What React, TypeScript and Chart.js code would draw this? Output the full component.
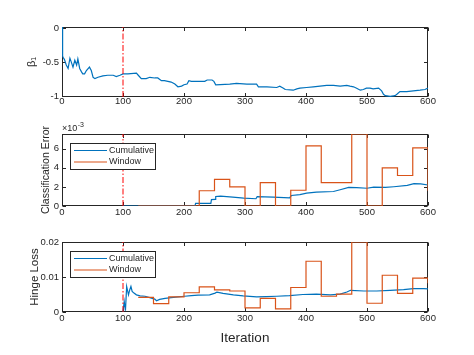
import React, { useEffect, useRef } from "react";
import { Chart, registerables } from "chart.js";

Chart.register(...registerables);

// ---------------- data ----------------
const X_RANGE = [0, 600];
const X_TICKS = [0, 100, 200, 300, 400, 500, 600];
const SPLIT_ITER = 100;

// panel 1: beta_1
const BETA_ITER = [0, 1, 2, 4, 7, 10, 13, 15, 18, 21, 24, 26, 29, 32, 34, 37, 40, 45, 48, 51, 54, 59, 67, 75, 84, 89, 95, 100, 108, 122, 125, 130, 138, 144, 152, 157, 163, 168, 179, 185, 190, 196, 200, 205, 208, 212, 226, 234, 238, 246, 249, 252, 275, 286, 303, 319, 322, 336, 352, 357, 363, 366, 379, 385, 390, 401, 412, 423, 434, 445, 456, 467, 472, 478, 483, 489, 494, 499, 505, 510, 519, 524, 527, 530, 538, 546, 549, 554, 565, 576, 587, 595, 600];
const BETA_VAL = [0.02, -0.41, -0.43, -0.46, -0.54, -0.59, -0.44, -0.49, -0.57, -0.47, -0.54, -0.45, -0.59, -0.64, -0.67, -0.67, -0.62, -0.57, -0.62, -0.72, -0.74, -0.72, -0.7, -0.69, -0.69, -0.71, -0.69, -0.67, -0.67, -0.66, -0.69, -0.74, -0.74, -0.72, -0.73, -0.73, -0.77, -0.77, -0.79, -0.82, -0.86, -0.85, -0.83, -0.82, -0.77, -0.78, -0.78, -0.78, -0.76, -0.76, -0.78, -0.83, -0.82, -0.81, -0.82, -0.82, -0.86, -0.86, -0.87, -0.85, -0.88, -0.9, -0.91, -0.89, -0.88, -0.87, -0.86, -0.85, -0.84, -0.84, -0.85, -0.84, -0.85, -0.86, -0.88, -0.91, -0.9, -0.88, -0.88, -0.89, -0.88, -0.92, -0.97, -0.99, -1.0, -0.99, -0.97, -0.93, -0.93, -0.92, -0.91, -0.9, -0.88];
const BETA_TICKS = [-1, -0.5, 0];
const BETA_RANGE = [-1.01, 0.02];

// panel 2: classification error
const CE_CUM_ITER = [100, 218, 219, 244, 245, 251, 252, 260, 280, 298, 318, 320, 346, 373, 376, 390, 401, 417, 445, 456, 470, 483, 500, 511, 530, 544, 566, 577, 588, 600];
const CE_CUM_VAL = [0, 0, 0.00027, 0.00027, 0.00067, 0.0007, 0.001, 0.00103, 0.00093, 0.00082, 0.00076, 0.00099, 0.00093, 0.00085, 0.0011, 0.0012, 0.00135, 0.00145, 0.00152, 0.0017, 0.00195, 0.00193, 0.00186, 0.00198, 0.00195, 0.00202, 0.00216, 0.00234, 0.00232, 0.0022];
const CE_WIN_ITER = [125, 150, 175, 200, 225, 250, 275, 300, 325, 350, 375, 400, 425, 450, 475, 500, 525, 550, 575, 600];
const CE_WIN_VAL = [0, 0, 0, 0, 0.0016, 0.0028, 0.002, 0, 0.00245, 0, 0.00165, 0.0063, 0.00245, 0.00245, 0.00755, 0, 0.004, 0.0032, 0.0061, 0.0016];
const CE_TICKS = [0, 0.002, 0.004, 0.006];
const CE_RANGE = [0, 0.00755];

// panel 3: hinge loss
const HL_CUM_ITER = [100, 102, 104, 106, 109, 111, 113, 115, 118, 122, 128, 136, 144, 152, 155, 160, 169, 179, 190, 201, 212, 223, 242, 251, 254, 264, 281, 297, 319, 335, 352, 373, 395, 417, 440, 456, 467, 473, 495, 516, 538, 560, 576, 593, 600];
const HL_CUM_VAL = [0.0001, 0.003, 0.0004, 0.0073, 0.0049, 0.0063, 0.0073, 0.0059, 0.0054, 0.0049, 0.0046, 0.0045, 0.0041, 0.0037, 0.0032, 0.0036, 0.0039, 0.0041, 0.0043, 0.0045, 0.0047, 0.0048, 0.0049, 0.0054, 0.0057, 0.0053, 0.0049, 0.0046, 0.0043, 0.0044, 0.0045, 0.0047, 0.005, 0.0051, 0.0049, 0.0051, 0.0057, 0.0062, 0.006, 0.006, 0.0062, 0.0064, 0.0067, 0.0067, 0.0066];
const HL_WIN_ITER = [125, 150, 175, 200, 225, 250, 275, 300, 325, 350, 375, 400, 425, 450, 475, 500, 525, 550, 575, 600];
const HL_WIN_VAL = [0.0042, 0.0024, 0.0043, 0.0055, 0.0072, 0.0063, 0.006, 0.0012, 0.0039, 0.0009, 0.007, 0.0145, 0.0045, 0.0051, 0.02, 0.0025, 0.0105, 0.0053, 0.0097, 0.0082];
const HL_TICKS = [0, 0.01, 0.02];
const HL_RANGE = [0, 0.02];

const LEGEND_LABELS = ["Cumulative", "Window"];

// ---------------- styling ----------------
const BLUE = "#0072BD";
const ORANGE = "#D95319";
const RED = "#FF0000";
const AXIS_COLOR = "#262626";
const FONT = "'Liberation Sans', Arial, Helvetica, sans-serif";

const pts = (xs: number[], ys: number[]) => xs.map((x, i) => ({ x, y: ys[i] }));

const matlabAxes = {
  id: "matlabAxes",
  beforeDatasetsDraw(chart: any) {
    const { ctx, chartArea: a, scales } = chart;
    ctx.save();
    const L = Math.round(a.left) + 0.5;
    const R = Math.round(a.right) - 0.5;
    const T = Math.round(a.top) + 0.5;
    const B = Math.round(a.bottom) - 0.5;
    ctx.strokeStyle = AXIS_COLOR;
    ctx.lineWidth = 1;
    ctx.strokeRect(L, T, R - L, B - T);
    const tl = 3.5;
    ctx.beginPath();
    scales.x.ticks.forEach((t: any) => {
      const px = Math.round(scales.x.getPixelForValue(t.value)) + 0.5;
      ctx.moveTo(px, B);
      ctx.lineTo(px, B - tl);
      ctx.moveTo(px, T);
      ctx.lineTo(px, T + tl);
    });
    scales.y.ticks.forEach((t: any) => {
      const py = Math.round(scales.y.getPixelForValue(t.value)) + 0.5;
      ctx.moveTo(L, py);
      ctx.lineTo(L + tl, py);
      ctx.moveTo(R, py);
      ctx.lineTo(R - tl, py);
    });
    ctx.stroke();
    ctx.restore();
  },
  afterDatasetsDraw(chart: any, _args: any, opts: any) {
    const { ctx, chartArea: a } = chart;
    ctx.save();
    if (opts.exponent) {
      ctx.fillStyle = AXIS_COLOR;
      ctx.textBaseline = "middle";
      ctx.textAlign = "left";
      ctx.font = `9px ${FONT}`;
      const base = "\u00d710";
      const x0 = Math.round(a.left);
      const y0 = Math.round(a.top) - 5;
      ctx.fillText(base, x0, y0);
      const w = ctx.measureText(base).width;
      ctx.font = `7px ${FONT}`;
      ctx.fillText(opts.exponent, x0 + w + 0.5, y0 - 4);
    }

    if (opts.legend) {
      const x0 = Math.round(a.left) + 8;
      const y0 = Math.round(a.top) + 9;
      const w = 86;
      const h = 27;
      ctx.fillStyle = "#ffffff";
      ctx.fillRect(x0, y0, w, h);
      ctx.strokeStyle = AXIS_COLOR;
      ctx.lineWidth = 1;
      ctx.strokeRect(x0 + 0.5, y0 + 0.5, w - 1, h - 1);
      ctx.font = `9px ${FONT}`;
      ctx.textBaseline = "middle";
      ctx.textAlign = "left";
      (opts.legend as string[]).forEach((label, i) => {
        const ds = chart.data.datasets.find((d: any) => d.label === label);
        if (!ds) return;
        const cy = y0 + 7.5 + i * 11.5;
        ctx.strokeStyle = ds.borderColor;
        ctx.lineWidth = 1.2;
        ctx.beginPath();
        ctx.moveTo(x0 + 4, cy);
        ctx.lineTo(x0 + 37, cy);
        ctx.stroke();
        ctx.fillStyle = AXIS_COLOR;
        ctx.fillText(label, x0 + 39, cy);
      });
    }
    ctx.restore();
  },
};

type PanelSpec = {
  height: number;
  padTop: number;
  xAxisHeight: number;
  xTickPad: number;
  yRange: number[];
  yTicks: number[];
  yFormat: (v: number) => string;
  yTitle: string;
  yTitleSize: number;
  yTitleOffset: number;
  xTitle?: string;
  datasets: any[];
  legend?: string[];
  exponent?: string;
};

function splitLine(range: number[]) {
  return {
    label: "split",
    data: [
      { x: SPLIT_ITER, y: range[0] },
      { x: SPLIT_ITER, y: range[1] },
    ],
    borderColor: RED,
    borderWidth: 1,
    borderDash: [6, 2, 1.5, 2],
    pointRadius: 0,
    order: -1,
  };
}

function buildConfig(p: PanelSpec): any {
  const tickFont = { family: FONT, size: 9.5 };
  return {
    type: "line",
    data: { datasets: p.datasets },
    plugins: [matlabAxes],
    options: {
      animation: false,
      responsive: false,
      maintainAspectRatio: false,
      events: [],
      layout: { padding: { top: p.padTop, right: 46, left: 0, bottom: 0 } },
      elements: { point: { radius: 0 }, line: { tension: 0 } },
      plugins: {
        legend: { display: false },
        tooltip: { enabled: false },
        matlabAxes: { legend: p.legend, exponent: p.exponent },
      },
      scales: {
        x: {
          type: "linear",
          min: X_RANGE[0],
          max: X_RANGE[1],
          grid: { display: false, drawTicks: false },
          border: { display: false },
          ticks: {
            font: { ...tickFont, lineHeight: 1 },
            color: AXIS_COLOR,
            padding: p.xTickPad,
            maxRotation: 0,
            autoSkip: false,
            callback: (v: number) => String(v),
          },
          afterBuildTicks: (s: any) => {
            s.ticks = X_TICKS.map((v) => ({ value: v }));
          },
          afterFit: (s: any) => {
            s.height = p.xAxisHeight;
            s.paddingLeft = 0;
            s.paddingRight = 0;
          },
          title: p.xTitle
            ? {
                display: true,
                text: p.xTitle,
                color: AXIS_COLOR,
                font: { family: FONT, size: 13.5, lineHeight: 1 },
                padding: { top: 0, bottom: 10 },
              }
            : { display: false },
        },
        y: {
          type: "linear",
          min: p.yRange[0],
          max: p.yRange[1],
          grid: { display: false, drawTicks: false },
          border: { display: false },
          ticks: {
            font: { ...tickFont, lineHeight: 1 },
            color: AXIS_COLOR,
            padding: 3,
            autoSkip: false,
            callback: (v: number) => p.yFormat(v),
          },
          afterBuildTicks: (s: any) => {
            s.ticks = p.yTicks.map((v) => ({ value: v }));
          },
          afterFit: (s: any) => {
            s.width = 62;
            s.paddingTop = 0;
            s.paddingBottom = 0;
          },
          title: {
            display: true,
            text: p.yTitle,
            color: AXIS_COLOR,
            font: { family: FONT, size: p.yTitleSize, lineHeight: 1 },
            padding: { top: p.yTitleOffset - p.yTitleSize / 2, bottom: 0 },
          },
        },
      },
    },
  };
}

const lineDs = (label: string, xs: number[], ys: number[], color: string, stepped: any, order: number) => ({
  label,
  data: pts(xs, ys),
  borderColor: color,
  backgroundColor: color,
  borderWidth: 1.2,
  pointRadius: 0,
  stepped,
  order,
});

const PANELS: { top: number; spec: PanelSpec }[] = [
  {
    top: 0,
    spec: {
      height: 114,
      padTop: 27,
      xAxisHeight: 17,
      xTickPad: 0,
      yRange: BETA_RANGE,
      yTicks: BETA_TICKS,
      yFormat: (v) => String(v),
      yTitle: "\u03b2\u2081",
      yTitleSize: 11,
      yTitleOffset: 32,
      datasets: [lineDs("beta", BETA_ITER, BETA_VAL, BLUE, false, 1), splitLine(BETA_RANGE)],
    },
  },
  {
    top: 114,
    spec: {
      height: 110,
      padTop: 20,
      xAxisHeight: 18,
      xTickPad: 2,
      yRange: CE_RANGE,
      yTicks: CE_TICKS,
      yFormat: (v) => String(Math.round(v * 1000)),
      yTitle: "Classification Error",
      yTitleSize: 10.5,
      yTitleOffset: 46,
      datasets: [
        lineDs(LEGEND_LABELS[0], CE_CUM_ITER, CE_CUM_VAL, BLUE, false, 1),
        lineDs(LEGEND_LABELS[1], CE_WIN_ITER, CE_WIN_VAL, ORANGE, "before", 0),
        splitLine(CE_RANGE),
      ],
      legend: LEGEND_LABELS,
      exponent: "-3",
    },
  },
  {
    top: 224,
    spec: {
      height: 131,
      padTop: 18,
      xAxisHeight: 43,
      xTickPad: 2,
      yRange: HL_RANGE,
      yTicks: HL_TICKS,
      yFormat: (v) => String(v),
      yTitle: "Hinge Loss",
      yTitleSize: 11.5,
      yTitleOffset: 34.5,
      xTitle: "Iteration",
      datasets: [
        lineDs(LEGEND_LABELS[0], HL_CUM_ITER, HL_CUM_VAL, BLUE, false, 1),
        lineDs(LEGEND_LABELS[1], HL_WIN_ITER, HL_WIN_VAL, ORANGE, "before", 0),
        splitLine(HL_RANGE),
      ],
      legend: LEGEND_LABELS,
    },
  },
];

export default function App() {
  const refs = [useRef<HTMLCanvasElement>(null), useRef<HTMLCanvasElement>(null), useRef<HTMLCanvasElement>(null)];

  useEffect(() => {
    const charts = PANELS.map((panel, i) => {
      const canvas = refs[i].current!;
      return new Chart(canvas, buildConfig(panel.spec));
    });
    return () => charts.forEach((c) => c.destroy());
  }, []);

  return (
    <div style={{ position: "fixed", left: 0, top: 0, width: 474, height: 355, background: "#ffffff", overflow: "hidden" }}>
      {PANELS.map((panel, i) => (
        <canvas
          key={i}
          ref={refs[i]}
          width={474}
          height={panel.spec.height}
          style={{ position: "absolute", left: 0, top: panel.top, width: 474, height: panel.spec.height, display: "block" }}
        />
      ))}
    </div>
  );
}
